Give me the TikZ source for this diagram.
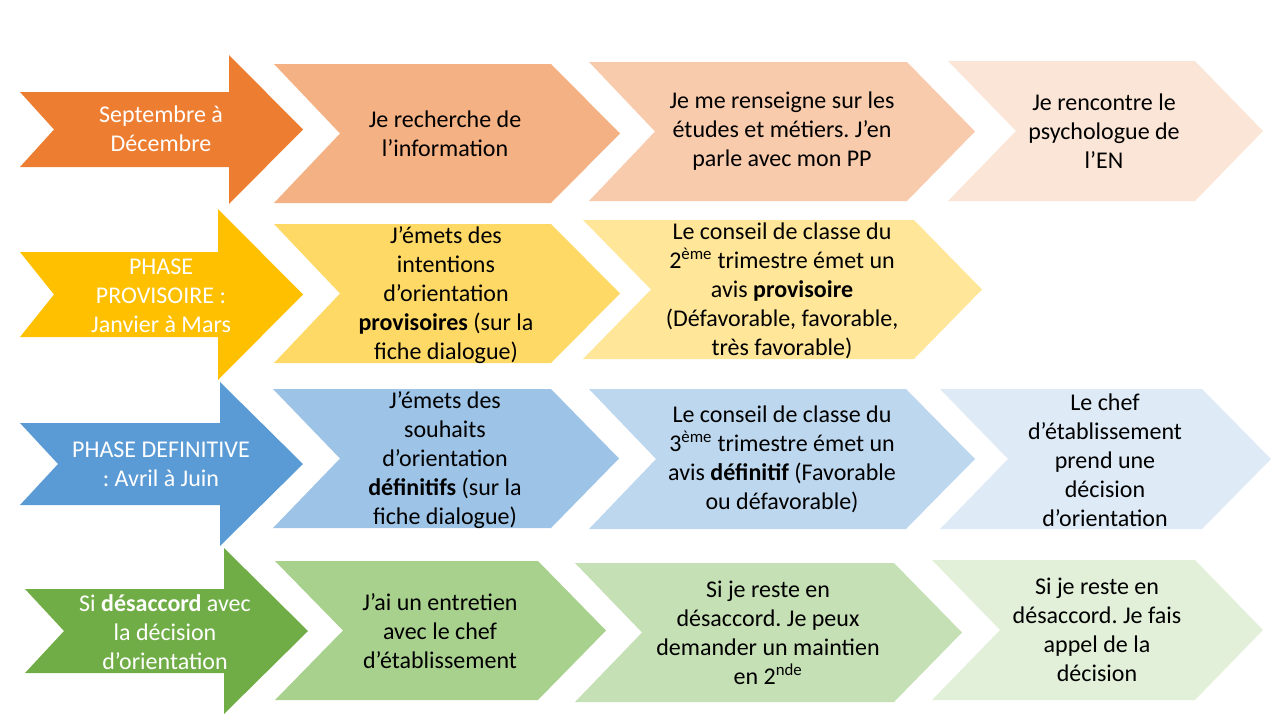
\documentclass[tikz,border=0pt]{standalone}
\usepackage{fontspec}
\setmainfont{Carlito}
\frenchspacing
\definecolor{o1}{HTML}{ED7D31}\definecolor{o2}{HTML}{F4B183}\definecolor{o3}{HTML}{F8CBAD}\definecolor{o4}{HTML}{FBE5D6}
\definecolor{y1}{HTML}{FFC000}\definecolor{y2}{HTML}{FFD966}\definecolor{y3}{HTML}{FFE699}
\definecolor{b1}{HTML}{5B9BD5}\definecolor{b2}{HTML}{9DC3E6}\definecolor{b3}{HTML}{BDD7EE}\definecolor{b4}{HTML}{DEEBF7}
\definecolor{g1}{HTML}{70AD47}\definecolor{g2}{HTML}{A9D18E}\definecolor{g3}{HTML}{C5E0B4}\definecolor{g4}{HTML}{E2F0D9}
% chevron: color, left, notch, righttop, tip, top, bottom
\newcommand\mychev[7]{\fill[#1] (#2,#6) -- (#4,#6) -- (#5,{(#6+#7)/2}) -- (#4,#7) -- (#2,#7) -- (#3,{(#6+#7)/2}) -- cycle;}
% arrow: color, left, notch, shaftend, tip, shafttop, shaftbottom, headtop, headbottom
\newcommand\myarrow[9]{\fill[#1] (#2,#6) -- (#4,#6) -- (#4,#8) -- (#5,{(#8+#9)/2}) -- (#4,#9) -- (#4,#7) -- (#2,#7) -- (#3,{(#6+#7)/2}) -- cycle;}
\tikzset{
  txt/.style={inner sep=0pt, align=center, font=\fontsize{24}{29}\selectfont, text=black},
  wtxt/.style={txt, text=white}
}
\begin{document}
\begin{tikzpicture}[x=1pt,y=-1pt]
\useasboundingbox (0,0) rectangle (1280,720);
% row 1
\myarrow{o1}{20}{54}{229}{303}{92}{167}{55}{204}
\mychev{o2}{274}{340}{551}{620}{64}{203}
\mychev{o3}{589}{655}{907}{975}{62}{201}
\mychev{o4}{948}{1016}{1195}{1263}{61}{201}
% row 2
\myarrow{y1}{20}{54}{218}{303}{252}{337}{209}{380}
\mychev{y2}{274}{340}{551}{620}{224}{363}
\mychev{y3}{583}{651}{914}{982}{220}{359}
% row 3
\myarrow{b1}{20}{58}{220}{303}{423}{505}{382}{546}
\mychev{b2}{273}{340}{551}{619}{389}{528}
\mychev{b3}{589}{656}{906}{975}{389}{529}
\mychev{b4}{940}{1008}{1202}{1271}{389}{529}
% row 4
\myarrow{g1}{25}{64}{224}{308}{589}{673}{548}{714}
\mychev{g2}{275}{343}{538}{606}{561}{700}
\mychev{g3}{575}{642}{894}{962}{563}{702}
\mychev{g4}{932}{1000}{1195}{1263}{560}{700}
% texts
\node[wtxt] (t11) at (161,129) {Septembre à\\Décembre};
\node[txt] (t12) at (445,134) {Je recherche de\\l’information};
\node[txt] (t13) at (782,131) {Je me renseigne sur les\\études et métiers. J’en\\parle avec mon PP};
\node[txt] (t14) at (1104,131) {Je rencontre le\\psychologue de\\l’EN};
\node[wtxt] (t21) at (161,296) {PHASE\\PROVISOIRE :\\Janvier à Mars};
\node[txt] (t22) at (446,295) {J’émets des\\intentions\\d’orientation\\\textbf{provisoires} (sur la\\fiche dialogue)};
\node[txt] (t23) at (782,291) {Le conseil de classe du\\2\textsuperscript{ème} trimestre émet un\\avis \textbf{provisoire}\\(Défavorable, favorable,\\très favorable)};
\node[wtxt] (t31) at (161,464) {PHASE DEFINITIVE\\: Avril à Juin};
\node[txt] (t32) at (445,460) {J’émets des\\souhaits\\d’orientation\\\textbf{définitifs} (sur la\\fiche dialogue)};
\node[txt] (t33) at (782,459) {Le conseil de classe du\\3\textsuperscript{ème} trimestre émet un\\avis \textbf{définitif} (Favorable\\ou défavorable)};
\node[txt] (t34) at (1105,460) {Le chef\\d’établissement\\prend une\\décision\\d’orientation};
\node[wtxt] (t41) at (165,632) {Si \textbf{désaccord} avec\\la décision\\d’orientation};
\node[txt] (t42) at (440,631) {J’ai un entretien\\avec le chef\\d’établissement};
\node[txt] (t43) at (768,633) {Si je reste en\\désaccord. Je peux\\demander un maintien\\en 2\textsuperscript{nde}};
\node[txt] (t44) at (1097,630) {Si je reste en\\désaccord. Je fais\\appel de la\\décision};
\end{tikzpicture}
\end{document}
